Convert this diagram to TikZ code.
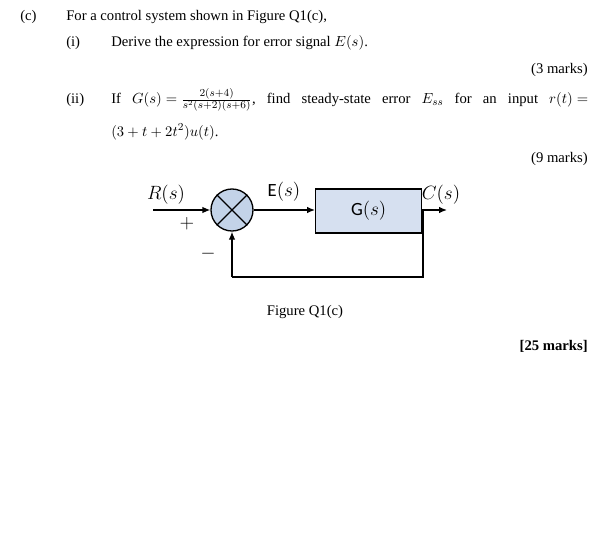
\documentclass[tikz,border=0pt]{standalone}
\usepackage{fontspec}
\setmainfont{Liberation Serif}
\newfontfamily\sansf{Carlito}
\usetikzlibrary{arrows.meta}
\definecolor{sumfill}{HTML}{C3D3E8}
\definecolor{boxfill}{HTML}{D6E0F0}
\begin{document}
\begin{tikzpicture}[x=0.75pt,y=-0.75pt,
  txt/.style={anchor=west,inner sep=0pt,font=\fontsize{11}{13}\selectfont},
  rtxt/.style={anchor=east,inner sep=0pt,font=\fontsize{11}{13}\selectfont},
  lbl/.style={inner sep=0pt,font=\fontsize{14}{16}\selectfont},
  sig/.style={line width=1pt,-{Latex[length=6pt,width=5pt]}},
  wire/.style={line width=1pt}]
\useasboundingbox (0,0) rectangle (604,542);
\node[txt] (c) at (20,17) {(c)};
\node[txt] (t1) at (66,17) {For a control system shown in Figure Q1(c),};
\node[txt] (i) at (66,43) {(i)};
\node[txt] (t2) at (111,43) {Derive the expression for error signal $E(s)$.};
\node[rtxt] (m3) at (588,70) {(3 marks)};
\node[txt] (ii) at (66,100) {(ii)};
\node[txt] (t3) at (111,100) {\makebox[357.75pt][s]{If \mbox{$G(s)=\frac{2(s+4)}{s^2(s+2)(s+6)}$,} find steady-state error \mbox{$E_{ss}$} for an input \mbox{$r(t)=$}}};
\node[txt] (t4) at (111,132) {$(3+t+2t^2)u(t)$.};
\node[rtxt] (m9) at (588,159) {(9 marks)};
% diagram
\coordinate (in) at (153,210);
\node[circle,draw,line width=1pt,fill=sumfill,minimum size=42*0.75pt,inner sep=0pt] (sum) at (232,210) {};
\draw[line width=1pt] (sum.north west) -- (sum.south east) (sum.north east) -- (sum.south west);
\node[draw,line width=1pt,fill=boxfill,minimum width=106*0.75pt,minimum height=44*0.75pt,anchor=west] (G) at (315,211) {};
\node[lbl] (Gt) at (G.center) {\sansf G$(s)$};
\coordinate (out) at (447,210);
\coordinate (tap) at (423,211);
\coordinate (fb1) at (423,277);
\coordinate (fb2) at (232,277);
\draw[sig] (in) -- (sum.west);
\draw[sig] (sum.east) -- (G.west |- sum.east);
\draw[sig] (G.east |- sum.east) -- (out);
\draw[wire] (tap) -- (fb1) -- (fb2);
\draw[sig] (fb2) -- (sum.south);
\node[lbl] (R) at (166,195) {$R(s)$};
\node[lbl] (plus) at (187,224) {$+$};
\node[lbl] (minus) at (208,254) {$-$};
\node[lbl] (E) at (284,192) {\sansf E$(s)$};
\node[lbl] (C) at (441,195) {$C(s)$};
\node[txt,anchor=center] (fig) at (305,312) {Figure Q1(c)};
\node[rtxt,font=\fontsize{11}{13}\selectfont\bfseries] (m25) at (588,346) {[25 marks]};
\end{tikzpicture}
\end{document}
